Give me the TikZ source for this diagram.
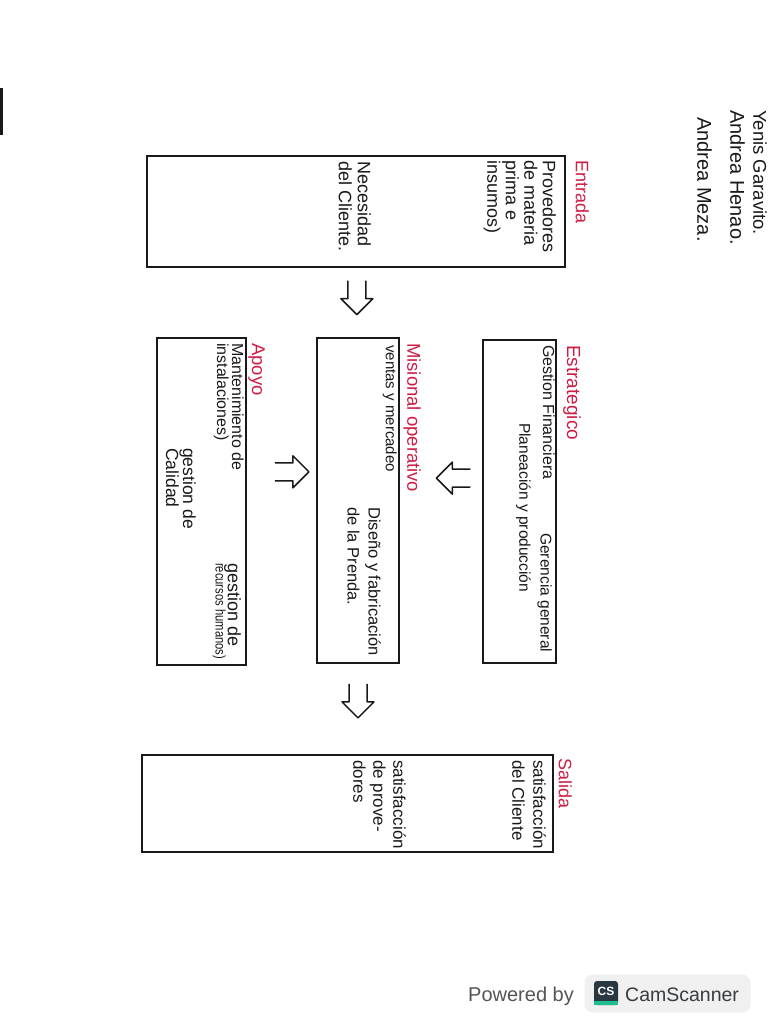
\documentclass[tikz,border=0pt]{standalone}
\usepackage{fontspec}
\setmainfont{Liberation Sans}
\usetikzlibrary{calc}
\definecolor{ink}{RGB}{25,25,25}
\definecolor{redink}{RGB}{205,30,70}
\definecolor{wmgray}{RGB}{85,85,85}
\definecolor{wmtext}{RGB}{55,60,65}
\definecolor{wmbox}{RGB}{240,240,240}
\definecolor{csdark}{RGB}{40,55,65}
\definecolor{csgreen}{RGB}{30,190,145}
\newcommand\hfs[2]{\fontsize{#1}{#2}\selectfont}
\tikzset{
  box/.style={draw=ink, line width=1.6pt, inner sep=0},
  txt/.style={inner sep=0, rotate=-90, anchor=north west, align=left, text=ink},
  lbl/.style={txt, text=redink},
  harrow/.pic={\draw[ink, line width=1.5pt, line join=round]
     (-17,-9) -- (1,-9) -- (1,-16) -- (17,0) -- (1,16) -- (1,9) -- (-17,9);}
}
\begin{document}
\begin{tikzpicture}[x=1pt,y=-1pt]
\fill[white] (0,0) rectangle (768,1024);
\useasboundingbox (0,0) rectangle (768,1024);
\fill[ink] (0,88) rectangle (3,135);

% names
\node[txt, font=\hfs{18.5}{24}] (n1) at (767,110) {Yenis Garavito.};
\node[txt, font=\hfs{20}{24}] (n2) at (745,110) {Andrea Henao.};
\node[txt, font=\hfs{20}{24}] (n3) at (712,117) {Andrea Meza.};

% boxes
\node[box, minimum width=418pt, minimum height=111pt] (entrada) at (356,211.5) {};
\node[box, minimum width=73pt, minimum height=323pt] (estrategico) at (519.5,501.5) {};
\node[box, minimum width=82pt, minimum height=325pt] (misional) at (358,500.5) {};
\node[box, minimum width=89pt, minimum height=327pt] (apoyo) at (201.5,501.5) {};
\node[box, minimum width=411pt, minimum height=97pt] (salida) at (347.5,803.5) {};

% Entrada
\node[lbl, font=\hfs{18}{20}] (lentrada) at (589,160) {Entrada};
\node[txt, font=\hfs{18}{18.5}] (tprov) at (556,160) {Provedores\\de materia\\prima e\\insumos)};
\node[txt, font=\hfs{18}{19}] (tnec) at (371,161) {Necesidad\\del Cliente.};

% Estrategico
\node[lbl, font=\hfs{19}{20}] (lestr) at (581,345) {Estrategico};
\node[txt, font=\hfs{16}{18}] (tgf) at (555,345) {Gestion Financiera};
\node[txt, font=\hfs{15.5}{18}] (tgg) at (552,533) {Gerencia general};
\node[txt, font=\hfs{15.5}{18}] (tpp) at (531,423) {Planeación y producción};

% Misional
\node[lbl, font=\hfs{18.5}{20}] (lmis) at (421,343) {Misional operativo};
\node[txt, font=\hfs{15}{18}] (tvm) at (397,345) {ventas y mercadeo};
\node[txt, font=\hfs{16.5}{21}] (tdf) at (381,507) {Diseño y fabricación\\de la Prenda.};

% Apoyo
\node[lbl, font=\hfs{18.5}{20}] (lapo) at (265,343) {Apoyo};
\node[txt, font=\hfs{16}{15}] (tman) at (244,343) {Mantenimiento de\\instalaciones)};
\node[txt, font=\hfs{17.5}{17}] (tcal) at (196,448) {gestion de\\Calidad};
\node[txt, font=\hfs{18}{18}] (trh1) at (241,563) {gestion de};
\node[txt, font=\hfs{14}{16}] (trh2) at (226,563) {\scalebox{0.8}[1]{recursos humanos)}};

% Salida
\node[lbl, font=\hfs{18}{20}] (lsal) at (572,758) {Salida};
\node[txt, font=\hfs{17}{21}] (tsc) at (546,760) {satisfacción\\del Cliente};
\node[txt, font=\hfs{17}{20}] (tsp) at (406,760) {satisfacción\\de prove-\\dores};

% arrows
\pic[rotate=-90] at ($(entrada.south)!0.43!(misional.north)$) {harrow};
\pic[rotate=180] at ($(estrategico.west)!0.35!(misional.east)+(0,-23)$) {harrow};
\pic at ($(apoyo.east)!0.65!(misional.west)+(0,-29)$) {harrow};
\pic[rotate=-90] at ($(misional.south)!0.41!(misional.south |- salida.north)$) {harrow};

% watermark
\node[fill=wmbox, rounded corners=8pt, minimum width=166pt, minimum height=38pt, inner sep=0] (wm) at (667.5,993.5) {};
\node[fill=csdark, rounded corners=3pt, minimum size=24pt, inner sep=0] (cs) at (606,993) {};
\fill[csgreen] (cs.south west) rectangle ($(cs.south east)+(0,-4)$);
\node[text=white, font=\hfs{12}{12}\bfseries, inner sep=0] (cstxt) at ($(cs.center)+(0,-2)$) {CS};
\node[text=wmgray, font=\hfs{20}{24}, anchor=base west, inner sep=0] (pow) at (468,1001) {Powered by};
\node[text=wmtext, font=\hfs{19.5}{24}, anchor=base west, inner sep=0] (camsc) at (625,1001) {CamScanner};
\end{tikzpicture}
\end{document}
